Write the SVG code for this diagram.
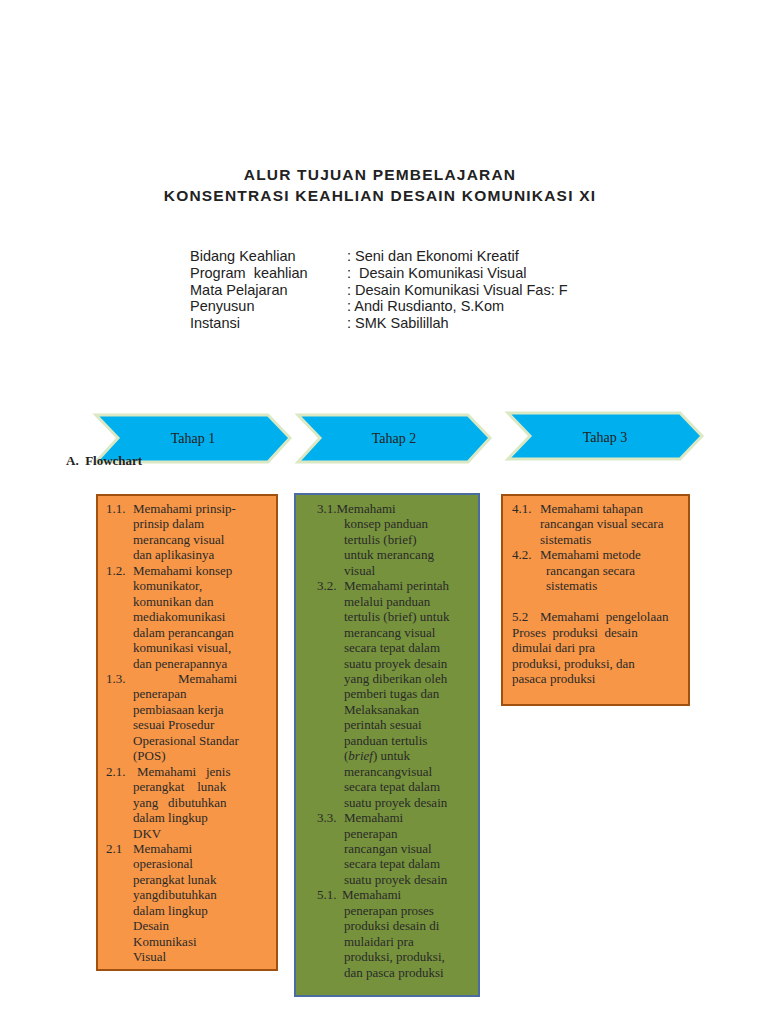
<svg xmlns="http://www.w3.org/2000/svg" width="768" height="1024" viewBox="0 0 768 1024">
<style>
text{white-space:pre}
.h{font-family:"Liberation Sans",Arial,sans-serif;font-weight:bold;font-size:15.5px;letter-spacing:1.2px;fill:#222;text-anchor:middle}
.i{font-family:"Liberation Sans",Arial,sans-serif;font-size:14.5px;fill:#222}
.t{font-family:"Liberation Serif","Times New Roman",serif;font-size:13px;fill:#2a2a2a}
.arr{fill:#00b0ee;stroke:#dbe8c4;stroke-width:3}
.tl{font-family:"Liberation Serif","Times New Roman",serif;font-size:14px;fill:#222;text-anchor:middle}
</style>
<rect width="768" height="1024" fill="#fff"/>
<text class="h" x="380" y="180">ALUR TUJUAN PEMBELAJARAN</text>
<text class="h" x="380" y="201">KONSENTRASI KEAHLIAN DESAIN KOMUNIKASI XI</text>
<g class="i">
<text x="190" y="261">Bidang Keahlian</text><text x="347" y="261">: Seni dan Ekonomi Kreatif</text>
<text x="190" y="278">Program  keahlian</text><text x="347" y="278">:  Desain Komunikasi Visual</text>
<text x="190" y="295">Mata Pelajaran</text><text x="347" y="295">: Desain Komunikasi Visual Fas: F</text>
<text x="190" y="311">Penyusun</text><text x="347" y="311">: Andi Rusdianto, S.Kom</text>
<text x="190" y="328">Instansi</text><text x="347" y="328">: SMK Sabilillah</text>
</g>
<g id="tahap1"><polygon class="arr" points="96,415 268,415 290,438 268,462 96,462 118,438"/><text class="tl" x="193" y="443">Tahap 1</text></g>
<g id="tahap2"><polygon class="arr" points="298,415 468,415 490,438 468,462 298,462 320,438"/><text class="tl" x="394" y="443">Tahap 2</text></g>
<g id="tahap3"><polygon class="arr" points="508,413 680,413 702,436 680,459 508,459 530,436"/><text class="tl" x="605" y="442">Tahap 3</text></g>
<text x="66" y="465" style="font-family:'Liberation Serif',serif;font-weight:bold;font-size:13px;fill:#222">A.  Flowchart</text>
<g id="box1">
<rect x="97" y="495" width="180" height="475" fill="#f79646" stroke="#a0500f" stroke-width="2"/>
<g class="t">
<text x="106" y="513">1.1.</text><text x="133" y="513">Memahami prinsip-</text>
<text x="133" y="528">prinsip dalam</text><text x="133" y="544">merancang visual</text><text x="133" y="559">dan aplikasinya</text>
<text x="106" y="575">1.2.</text><text x="133" y="575">Memahami konsep</text>
<text x="133" y="590">komunikator,</text><text x="133" y="606">komunikan dan</text><text x="133" y="621">mediakomunikasi</text><text x="133" y="637">dalam perancangan</text><text x="133" y="652">komunikasi visual,</text><text x="133" y="668">dan penerapannya</text>
<text x="106" y="683">1.3.</text><text x="178" y="683">Memahami</text>
<text x="133" y="698">penerapan</text><text x="133" y="714">pembiasaan kerja</text><text x="133" y="729">sesuai Prosedur</text><text x="133" y="745">Operasional Standar</text><text x="133" y="760">(POS)</text>
<text x="106" y="776">2.1.</text><text x="137" y="776">Memahami   jenis</text>
<text x="133" y="791">perangkat    lunak</text><text x="133" y="807">yang   dibutuhkan</text><text x="133" y="822">dalam lingkup</text><text x="133" y="838">DKV</text>
<text x="106" y="853">2.1</text><text x="133" y="853">Memahami</text>
<text x="133" y="868">operasional</text><text x="133" y="884">perangkat lunak</text><text x="133" y="899">yangdibutuhkan</text><text x="133" y="915">dalam lingkup</text><text x="133" y="930">Desain</text><text x="133" y="946">Komunikasi</text><text x="133" y="961">Visual</text>
</g></g>
<g id="box2">
<rect x="295" y="494" width="184" height="502" fill="#76923c" stroke="#4a6ca0" stroke-width="2"/>
<g class="t">
<text x="317" y="513">3.1.Memahami</text>
<text x="344" y="528">konsep panduan</text><text x="344" y="544">tertulis (brief)</text><text x="344" y="559">untuk merancang</text><text x="344" y="575">visual</text>
<text x="317" y="590">3.2.</text><text x="344" y="590">Memahami perintah</text>
<text x="344" y="606">melalui panduan</text><text x="344" y="621">tertulis (brief) untuk</text><text x="344" y="637">merancang visual</text><text x="344" y="652">secara tepat dalam</text><text x="344" y="668">suatu proyek desain</text><text x="344" y="683">yang diberikan oleh</text><text x="344" y="698">pemberi tugas dan</text><text x="344" y="714">Melaksanakan</text><text x="344" y="729">perintah sesuai</text><text x="344" y="745">panduan tertulis</text>
<text x="344" y="760">(<tspan font-style="italic">brief</tspan>) untuk</text><text x="344" y="776">merancangvisual</text><text x="344" y="791">secara tepat dalam</text><text x="344" y="807">suatu proyek desain</text>
<text x="317" y="822">3.3.</text><text x="344" y="822">Memahami</text>
<text x="344" y="838">penerapan</text><text x="344" y="853">rancangan visual</text><text x="344" y="868">secara tepat dalam</text><text x="344" y="884">suatu proyek desain</text>
<text x="317" y="899">5.1.</text><text x="342" y="899">Memahami</text>
<text x="344" y="915">penerapan proses</text><text x="344" y="930">produksi desain di</text><text x="344" y="946">mulaidari pra</text><text x="344" y="961">produksi, produksi,</text><text x="344" y="977">dan pasca produksi</text>
</g></g>
<g id="box3">
<rect x="502" y="495" width="187" height="210" fill="#f79646" stroke="#a0500f" stroke-width="2"/>
<g class="t">
<text x="512" y="513">4.1.</text><text x="540" y="513">Memahami tahapan</text>
<text x="540" y="528">rancangan visual secara</text><text x="540" y="544">sistematis</text>
<text x="512" y="559">4.2.</text><text x="540" y="559">Memahami metode</text>
<text x="546" y="575">rancangan secara</text><text x="546" y="590">sistematis</text>
<text x="512" y="621">5.2</text><text x="540" y="621">Memahami  pengelolaan</text>
<text x="512" y="637">Proses  produksi  desain</text><text x="512" y="652">dimulai dari pra</text><text x="512" y="668">produksi, produksi, dan</text><text x="512" y="683">pasaca produksi</text>
</g></g>
<g id="connectors"/>
</svg>
